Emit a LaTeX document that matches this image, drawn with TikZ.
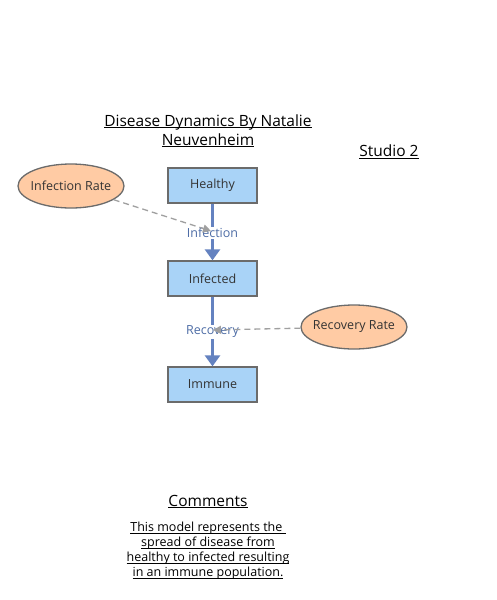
\documentclass[tikz,border=0pt]{standalone}
\usepackage{fontspec}
\setmainfont{Open Sans}
\usetikzlibrary{arrows.meta,shapes.geometric}
\definecolor{boxfill}{HTML}{A9D3F7}
\definecolor{boxline}{HTML}{6B6B6B}
\definecolor{ellfill}{HTML}{FFCBA4}
\definecolor{flowc}{HTML}{6482C0}
\definecolor{flowtext}{HTML}{4E6DA6}
\definecolor{dashc}{HTML}{A0A0A0}
\definecolor{txt}{HTML}{333333}
\newcommand\ulx[1]{\underline{\smash{#1}}}
\tikzset{
  stock/.style={draw=boxline, line width=1.3pt, fill=boxfill, minimum width=89pt, minimum height=35pt, inner sep=0pt, font=\fontsize{12.5}{14}\selectfont, text=txt},
  param/.style={ellipse, draw=boxline, line width=1.3pt, fill=ellfill, minimum width=106pt, minimum height=44pt, inner xsep=-12pt, inner ysep=0pt, font=\fontsize{12.5}{14}\selectfont, text=txt},
  flow/.style={draw=flowc, line width=3.5pt, -{Triangle[width=15pt,length=11pt]}},
  flowlbl/.style={fill=white, inner sep=1pt, text=flowtext, font=\fontsize{12.5}{14}\selectfont},
  link/.style={draw=dashc, line width=1.3pt, dash pattern=on 6pt off 4pt, -{Triangle[width=8pt,length=8pt]}},
  ttl/.style={font=\fontsize{15.5}{19}\selectfont, text=black, align=center},
  cmt/.style={font=\fontsize{12.5}{15}\selectfont, text=black, align=center}
}
\begin{document}
\begin{tikzpicture}[x=1pt,y=-1pt]
\useasboundingbox[fill=white] (0,0) rectangle (497,600);
\node[ttl] (title) at (208,136.5) {\ulx{Disease Dynamics By Natalie}\\\ulx{Neuvenheim}};
\node[ttl] (studio) at (389,157.5) {\ulx{Studio 2}};
\node[stock] (healthy) at (212.5,185.5) {Healthy};
\node[stock] (infected) at (212.5,278.5) {Infected};
\node[stock] (immune) at (212.5,384.5) {Immune};
\node[param] (irate) at (71,186) {Infection Rate};
\node[param] (rrate) at (354,327) {Recovery Rate};
\draw[flow] (healthy.south) -- (infected.north);
\draw[flow] (infected.south) -- (immune.north);
\node[flowlbl] (infl) at (212.5,233) {Infection};
\node[flowlbl] (recl) at (212.5,332) {Recovery};
\coordinate (inftip) at (211,231);
\coordinate (rectip) at (213,330);
\draw[link] (irate) -- (inftip);
\draw[link] (rrate) -- (rectip);
\node[ttl] (comments) at (208,507) {\ulx{Comments}};
\node[cmt] (ctext) at (208,555) {\ulx{This model represents the }\\\ulx{spread of disease from}\\\ulx{healthy to infected resulting}\\\ulx{in an immune population.}};
\end{tikzpicture}
\end{document}
